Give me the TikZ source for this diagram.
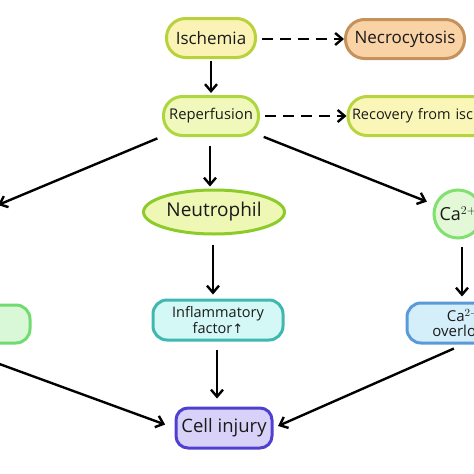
\documentclass[tikz,border=0pt]{standalone}
\usepackage{fontspec}
\setmainfont{Open Sans}
\newfontfamily\symf{DejaVu Sans}
\usetikzlibrary{arrows.meta,shapes.geometric,calc}
\definecolor{cIschF}{HTML}{FAF3B5}\definecolor{cIschD}{HTML}{B8D23C}
\definecolor{cNecF}{HTML}{F9D2A6}\definecolor{cNecD}{HTML}{C4925A}
\definecolor{cRepF}{HTML}{F1F8BC}\definecolor{cRepD}{HTML}{AED63E}
\definecolor{cRecF}{HTML}{FAF6B8}\definecolor{cRecD}{HTML}{B8D43E}
\definecolor{cNeuF}{HTML}{EEF8B4}\definecolor{cNeuD}{HTML}{8CCB2A}
\definecolor{cCaF}{HTML}{E2F8D6}\definecolor{cCaD}{HTML}{80E070}
\definecolor{cInfF}{HTML}{D4F8F6}\definecolor{cInfD}{HTML}{3FB8B0}
\definecolor{cOvF}{HTML}{D4EEFA}\definecolor{cOvD}{HTML}{5A9AD8}
\definecolor{cLgF}{HTML}{D8F8D8}\definecolor{cLgD}{HTML}{70DC70}
\definecolor{cCellF}{HTML}{D8D2F8}\definecolor{cCellD}{HTML}{5040D0}
\definecolor{txt}{HTML}{1A1A1A}
\tikzset{
  box/.style={draw, line width=3pt, inner sep=0pt, align=center, text=txt},
  pill/.style={box, rounded corners=19pt, minimum height=39pt},
  arr/.style={line width=2.4pt, -{Straight Barb[length=7pt,width=12pt,line width=2.4pt]}},
  darr/.style={arr, dash pattern=on 11pt off 7pt},
}
\begin{document}
\begin{tikzpicture}[x=1pt,y=-1pt]
\useasboundingbox (0,0) rectangle (474,474);
\clip (0,0) rectangle (474,474);
\node[pill, fill=cIschF, draw=cIschD, minimum width=89pt, font=\fontsize{17}{19}\selectfont] (isch) at (211,38) {Ischemia};
\node[pill, fill=cNecF, draw=cNecD, minimum width=119pt, font=\fontsize{17}{19}\selectfont] (nec) at (405,39) {Necrocytosis};
\node[pill, fill=cRepF, draw=cRepD, minimum width=95pt, font=\fontsize{14.8}{16}\selectfont] (rep) at (211,116) {Reperfusion};
\node[pill, fill=cRecF, draw=cRecD, minimum width=180pt, font=\fontsize{14.5}{16}\selectfont, text width=172pt, align=left] (rec) at (438,116) {Recovery from ischemia};
\node[box, ellipse, fill=cNeuF, draw=cNeuD, minimum width=141pt, minimum height=44pt, font=\fontsize{19}{21}\selectfont] (neu) at (214,212) {Neutrophil};
\node[box, circle, fill=cCaF, draw=cCaD, minimum size=48pt, font=\fontsize{18}{20}\selectfont] (ca) at (458,214) {Ca$^{2+}$};
\node[box, rounded corners=14pt, minimum width=130pt, minimum height=40pt, fill=cInfF, draw=cInfD, font=\fontsize{14.5}{14.5}\selectfont] (inf) at (218,320) {Inflammatory\\factor{\symf\fontsize{13}{13}\selectfont ↑}};
\node[box, rounded corners=14pt, minimum width=112pt, minimum height=40pt, fill=cOvF, draw=cOvD, font=\fontsize{15}{15}\selectfont] (ov) at (463,323) {Ca$^{2+}$\\overload};
\node[box, rounded corners=14pt, minimum width=120pt, minimum height=38pt, fill=cLgF, draw=cLgD] (lg) at (-30,324) {};
\node[box, rounded corners=12pt, minimum width=96pt, minimum height=40pt, fill=cCellF, draw=cCellD, font=\fontsize{18.5}{20}\selectfont] (cell) at (224,428) {Cell injury};
\coordinate (lm) at (-2,205);
\coordinate (lbout) at (-6,362);
\draw[darr] ($(isch.east)+(5,1)$) -- (nec.west);
\draw[darr] (rep.east) ++(5,0) -- (rec.west);
\draw[arr, shorten <=2pt, shorten >=2pt] (isch.south) -- (rep.north);
\draw[arr, shorten <=9pt, shorten >=2pt] ($(rep.south)+(-1,0)$) -- ($(rep.south |- neu.north)+(-1,0)$);
\draw[arr, shorten <=5pt] (rep) -- (lm);
\draw[arr, shorten <=4pt, shorten >=8pt] (rep) -- (ca);
\draw[arr, shorten <=9pt, shorten >=4pt] ($(neu.south)+(-1,0)$) -- ($(neu.south |- inf.north)+(-1,0)$);
\draw[arr, shorten <=7pt, shorten >=5pt] ($(ca.south)+(4,0)$) -- ($(ca.south |- ov.north)+(4,0)$);
\draw[arr, shorten <=8pt, shorten >=8pt] ($(inf.south)+(-1,0)$) -- ($(inf.south |- cell.north)+(-1,0)$);
\draw[arr, shorten >=10pt] (lbout) -- (cell.west);
\draw[arr, shorten <=10pt, shorten >=5pt] (ov.south) -- (cell.east);
\end{tikzpicture}
\end{document}
